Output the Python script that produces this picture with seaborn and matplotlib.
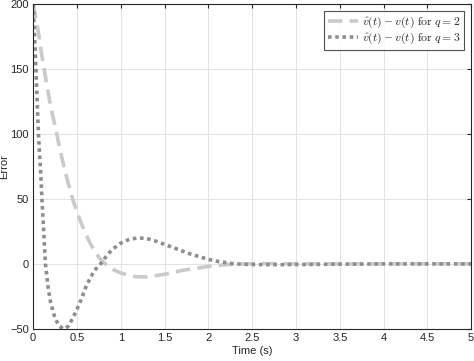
import numpy as np
import pandas as pd
import matplotlib.pyplot as plt
import seaborn as sns

# values
t_q2 = [0, 0.05, 0.1, 0.15, 0.2, 0.25, 0.3, 0.35, 0.4, 0.45, 0.5, 0.55, 0.6, 0.65,
        0.7, 0.75, 0.8, 0.85, 0.9, 1.0, 1.1, 1.2, 1.3, 1.4, 1.5, 1.6, 1.7, 1.8, 1.9,
        2.0, 2.1, 2.2, 2.4, 2.6, 3.0, 3.5, 4.0, 4.5, 5.0]
err_q2 = [200, 182, 160, 140, 121, 106, 90, 75, 62, 50, 40, 31, 23, 16,
          10, 5, 1.5, -1.5, -4, -7, -9, -10, -10, -9, -8, -6.5, -5, -4, -3,
          -2, -1.2, -0.6, 0, 0.2, 0.1, 0, 0, 0, 0]

t_q3 = [0, 0.015, 0.03, 0.045, 0.06, 0.075, 0.09, 0.1, 0.12, 0.14, 0.17, 0.2, 0.25,
        0.3, 0.35, 0.4, 0.45, 0.5, 0.55, 0.6, 0.65, 0.7, 0.77, 0.8, 0.9, 1.0, 1.1,
        1.2, 1.3, 1.4, 1.5, 1.6, 1.7, 1.8, 1.9, 2.0, 2.1, 2.2, 2.3, 2.5, 2.8, 3.0,
        3.5, 4.0, 4.5, 5.0]
err_q3 = [200, 176, 152, 126, 100, 82, 65, 50, 25, 0, -18, -30, -42,
          -48, -50, -48, -42, -35, -27, -18, -11, -5, 0, 3, 11, 16, 19,
          20, 19.5, 17.5, 15, 12.5, 10, 7.5, 5.5, 3.5, 2, 1, 0, -0.5, -0.6, -0.5,
          -0.2, 0, 0, 0]

labels = [r'$\hat{v}(t) - v(t)\ \mathrm{for}\ q = 2$',
          r'$\hat{v}(t) - v(t)\ \mathrm{for}\ q = 3$']

df = pd.concat([
    pd.DataFrame({'t': t_q2, 'err': err_q2, 'series': labels[0]}),
    pd.DataFrame({'t': t_q3, 'err': err_q3, 'series': labels[1]}),
])

sns.set_style("whitegrid")
plt.rcParams['font.family'] = ['Liberation Sans', 'DejaVu Sans']
plt.rcParams['mathtext.fontset'] = 'cm'

fig = plt.figure(figsize=(4.74, 3.61), dpi=100)
ax = fig.add_axes([0.07, 0.089, 0.924, 0.9])

sns.lineplot(data=df, x='t', y='err', hue='series', style='series',
             palette=['#cacaca', '#8e8e8e'], dashes=[(4, 2), (1, 1)],
             linewidth=2.6, ax=ax, sort=False)

ax.set_xlim(0, 5)
ax.set_ylim(-50, 200)
ax.set_xticks(np.arange(0, 5.01, 0.5))
ax.set_xticklabels(['0', '0.5', '1', '1.5', '2', '2.5', '3', '3.5', '4', '4.5', '5'])
ax.set_yticks([-50, 0, 50, 100, 150, 200])
ax.set_xlabel('Time (s)', fontsize=8, labelpad=2)
ax.set_ylabel('Error', fontsize=8, labelpad=1)
ax.tick_params(axis='both', which='both', direction='in', labelsize=8,
               length=3, width=0.8, top=True, right=True, color='#262626',
               pad=3, labelcolor='#262626')
ax.grid(True, color='#e3e3e3', linewidth=0.7)
for s in ax.spines.values():
    s.set_visible(True)
    s.set_color('#262626')
    s.set_linewidth(0.8)

leg = ax.legend(loc='upper right', fontsize=8.5, frameon=True, fancybox=False,
                borderpad=0.3, handlelength=2.6, handletextpad=0.3,
                labelspacing=0.1, borderaxespad=0.6)
leg.get_frame().set_edgecolor('#262626')
leg.get_frame().set_linewidth(0.8)

fig.savefig('out.png', dpi=100)
